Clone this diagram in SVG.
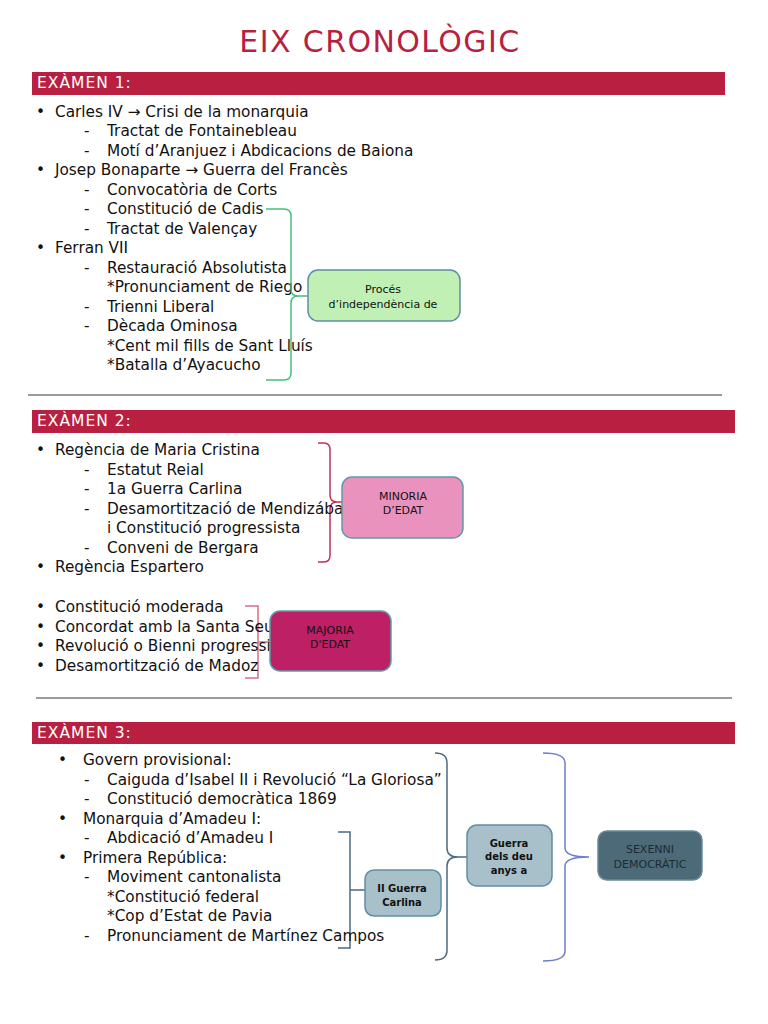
<svg xmlns="http://www.w3.org/2000/svg" width="768" height="1024" viewBox="0 0 768 1024">
<style>
.t{font-family:"DejaVu Sans",sans-serif;font-size:15.3px;fill:#111}
.h{font-family:"DejaVu Sans",sans-serif;font-size:15.5px;fill:#fff;letter-spacing:1px}
.bar{fill:#b81f41}
.sep{stroke:#7a7a7a;stroke-width:1.5}
.bx{font-family:"DejaVu Sans",sans-serif;font-size:11px;text-anchor:middle;fill:#111}
.bb{font-family:"DejaVu Sans",sans-serif;font-size:10px;font-weight:bold;text-anchor:middle;fill:#111}
.br{fill:none;stroke-width:1.5}
</style>
<rect width="768" height="1024" fill="#fff"/>
<text x="380" y="52" text-anchor="middle" style="font-family:'DejaVu Sans',sans-serif;font-size:30px;letter-spacing:1.4px;fill:#b81f41">EIX CRONOLÒGIC</text>

<!-- Section 1 -->
<rect class="bar" x="32" y="72" width="693" height="23"/>
<text class="h" x="37" y="88">EXÀMEN 1:</text>
<g id="list1">
<text class="t" x="36" y="117">•</text><text class="t" x="55" y="117">Carles IV → Crisi de la monarquia</text>
<text class="t" x="84" y="136">-</text><text class="t" x="107" y="136">Tractat de Fontainebleau</text>
<text class="t" x="84" y="156">-</text><text class="t" x="107" y="156">Motí d’Aranjuez i Abdicacions de Baiona</text>
<text class="t" x="36" y="175">•</text><text class="t" x="55" y="175">Josep Bonaparte → Guerra del Francès</text>
<text class="t" x="84" y="195">-</text><text class="t" x="107" y="195">Convocatòria de Corts</text>
<text class="t" x="84" y="214">-</text><text class="t" x="107" y="214">Constitució de Cadis</text>
<text class="t" x="84" y="234">-</text><text class="t" x="107" y="234">Tractat de Valençay</text>
<text class="t" x="36" y="253">•</text><text class="t" x="55" y="253">Ferran VII</text>
<text class="t" x="84" y="273">-</text><text class="t" x="107" y="273">Restauració Absolutista</text>
<text class="t" x="107" y="292">*Pronunciament de Riego</text>
<text class="t" x="84" y="312">-</text><text class="t" x="107" y="312">Trienni Liberal</text>
<text class="t" x="84" y="331">-</text><text class="t" x="107" y="331">Dècada Ominosa</text>
<text class="t" x="107" y="351">*Cent mil fills de Sant Lluís</text>
<text class="t" x="107" y="370">*Batalla d’Ayacucho</text>
</g>
<g id="connectors">
<path class="br" stroke="#45c07a" d="M266,209 H284 Q291,209 291,216 V289 Q291,296 298,296 H308 M298,296 Q291,296 291,303 V373 Q291,380 284,380 H266"/>
<path class="br" stroke="#c0305a" d="M318,443 H324 Q330,443 330,450 V495 Q330,502 337,502 H342 M337,502 Q330,502 330,509 V555 Q330,562 324,562 H318"/>
<path class="br" stroke="#d96e84" d="M245,606 H258 V678 H245 M258,642 H270"/>
<path class="br" stroke="#4a6a80" d="M338,832 H350 V948 H338 M350,890 H365"/>
<path class="br" stroke="#4a6a80" d="M435,753 Q447,753 447,763 V848 Q447,857 458,857 H467 M458,857 Q447,857 447,866 V950 Q447,960 435,960"/>
<path class="br" stroke="#6f7fc4" d="M543,753 Q565,753 565,763 V848 Q565,857 589,857 M589,857 Q565,857 565,866 V951 Q565,961 543,961"/>
</g>
<g id="n-proces">
<rect x="308" y="270" width="152" height="51" rx="10" fill="#c0f0b4" stroke="#5f8fa0" stroke-width="1.5"/>
<text class="bx" x="383" y="293">Procés</text>
<text class="bx" x="383" y="308">d’independència de</text>
</g>
<line class="sep" x1="28" y1="395" x2="722" y2="395"/>

<!-- Section 2 -->
<rect class="bar" x="32" y="410" width="703" height="23"/>
<text class="h" x="37" y="426">EXÀMEN 2:</text>
<g id="list2">
<text class="t" x="36" y="455">•</text><text class="t" x="55" y="455">Regència de Maria Cristina</text>
<text class="t" x="84" y="475">-</text><text class="t" x="107" y="475">Estatut Reial</text>
<text class="t" x="84" y="494">-</text><text class="t" x="107" y="494">1a Guerra Carlina</text>
<text class="t" x="84" y="514">-</text><text class="t" x="107" y="514">Desamortització de Mendizábal</text>
<text class="t" x="107" y="533">i Constitució progressista</text>
<text class="t" x="84" y="553">-</text><text class="t" x="107" y="553">Conveni de Bergara</text>
<text class="t" x="36" y="572">•</text><text class="t" x="55" y="572">Regència Espartero</text>
<text class="t" x="36" y="612">•</text><text class="t" x="55" y="612">Constitució moderada</text>
<text class="t" x="36" y="632">•</text><text class="t" x="55" y="632">Concordat amb la Santa Seu</text>
<text class="t" x="36" y="651">•</text><text class="t" x="55" y="651">Revolució o Bienni progressista</text>
<text class="t" x="36" y="671">•</text><text class="t" x="55" y="671">Desamortització de Madoz</text>
</g>
<g id="n-minoria">
<rect x="342" y="477" width="121" height="61" rx="10" fill="#ea92be" stroke="#5f9aa8" stroke-width="1.5"/>
<text class="bx" x="403" y="500">MINORIA</text>
<text class="bx" x="403" y="514">D’EDAT</text>
</g>
<g id="n-majoria">
<rect x="270" y="611" width="121" height="60" rx="10" fill="#be2066" stroke="#5f9aa8" stroke-width="1.5"/>
<text class="bx" x="330" y="634">MAJORIA</text>
<text class="bx" x="330" y="648">D'EDAT</text>
</g>
<line class="sep" x1="36" y1="698" x2="732" y2="698"/>

<!-- Section 3 -->
<rect class="bar" x="32" y="722" width="703" height="22"/>
<text class="h" x="37" y="738">EXÀMEN 3:</text>
<g id="list3">
<text class="t" x="58" y="765">•</text><text class="t" x="83" y="765">Govern provisional:</text>
<text class="t" x="84" y="785">-</text><text class="t" x="107" y="785">Caiguda d’Isabel II i Revolució “La Gloriosa”</text>
<text class="t" x="84" y="804">-</text><text class="t" x="107" y="804">Constitució democràtica 1869</text>
<text class="t" x="58" y="824">•</text><text class="t" x="83" y="824">Monarquia d’Amadeu I:</text>
<text class="t" x="84" y="843">-</text><text class="t" x="107" y="843">Abdicació d’Amadeu I</text>
<text class="t" x="58" y="863">•</text><text class="t" x="83" y="863">Primera República:</text>
<text class="t" x="84" y="882">-</text><text class="t" x="107" y="882">Moviment cantonalista</text>
<text class="t" x="107" y="902">*Constitució federal</text>
<text class="t" x="107" y="921">*Cop d’Estat de Pavia</text>
<text class="t" x="84" y="941">-</text><text class="t" x="107" y="941">Pronunciament de Martínez Campos</text>
</g>
<g id="n-carlina">
<rect x="365" y="870" width="76" height="46" rx="9" fill="#a7c0ca" stroke="#5f8fa0" stroke-width="1.5"/>
<text class="bb" x="402" y="892">II Guerra</text>
<text class="bb" x="402" y="906">Carlina</text>
</g>
<g id="n-deu">
<rect x="467" y="825" width="85" height="61" rx="10" fill="#a7c0ca" stroke="#5f8fa0" stroke-width="1.5"/>
<text class="bb" x="509" y="847">Guerra</text>
<text class="bb" x="509" y="860">dels deu</text>
<text class="bb" x="509" y="874">anys a</text>
</g>
<g id="n-sexenni">
<rect x="598" y="831" width="104" height="49" rx="9" fill="#4d6a78" stroke="#6a8a98" stroke-width="1.5"/>
<text class="bx" x="650" y="853" style="fill:#1c2c33">SEXENNI</text>
<text class="bx" x="650" y="868" style="fill:#1c2c33">DEMOCRÀTIC</text>
</g>
</svg>
